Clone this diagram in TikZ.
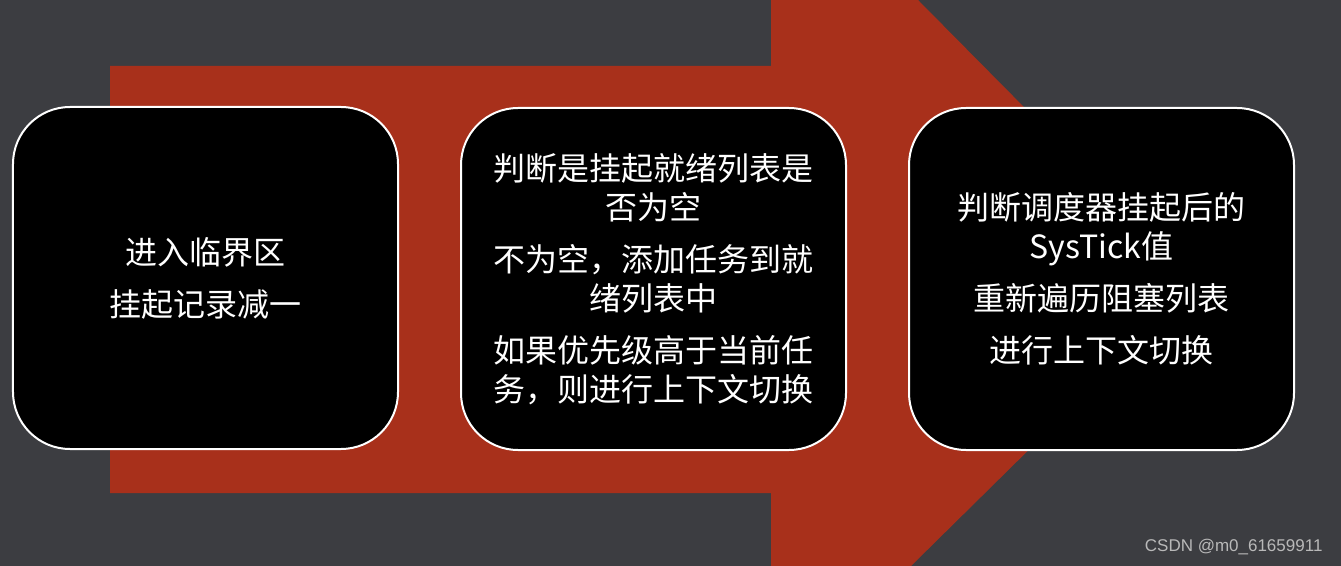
\documentclass[tikz,border=0pt]{standalone}
\usepackage{fontspec}
\setmainfont{Noto Sans CJK SC}
\newfontfamily\markfont{Liberation Sans}
\definecolor{bggray}{RGB}{60,61,65}
\definecolor{arrowred}{RGB}{168,48,27}
\definecolor{markgray}{RGB}{185,185,185}
\tikzset{
  stepcard/.style={draw=white, line width=2bp, fill=black, rounded corners=57bp,
    minimum width=385bp, minimum height=342bp, text=white, align=center,
    font=\fontsize{32bp}{39bp}\selectfont},
}

\begin{document}
\begin{tikzpicture}[x=1bp, y=-1bp]
	%%%%% START %%%%%
	
	\fill[bggray] (0, 0) rectangle (1341, 566);
	\useasboundingbox (0, 0) rectangle (1341, 566);
	
	% big red arrow behind the cards
	\fill[arrowred] (110, 66) -- (771, 66) -- (771, 0) -- (918, 0) -- (1198, 283)
		-- (911, 566) -- (771, 566) -- (771, 493) -- (110, 493) -- cycle;
	
	\node[stepcard] (enter) at (205.5, 278) {进入临界区\\[13bp]挂起记录减一};
	
	\node[stepcard] (check) at (653.5, 279) {判断是挂起就绪列表是\\否为空\\[13bp]不为空，添加任务到就\\绪列表中\\[13bp]如果优先级高于当前任\\务，则进行上下文切换};
	
	\node[stepcard] (tick) at (1101.5, 279) {判断调度器挂起后的\\SysTick值\\[13bp]重新遍历阻塞列表\\[13bp]进行上下文切换};
	
	\node[text=markgray, anchor=east, font=\markfont\fontsize{17bp}{20bp}\selectfont] (mark) at (1326, 547) {CSDN @m0\_61659911};
	
	%%%%% END %%%%%
\end{tikzpicture}
\end{document}
